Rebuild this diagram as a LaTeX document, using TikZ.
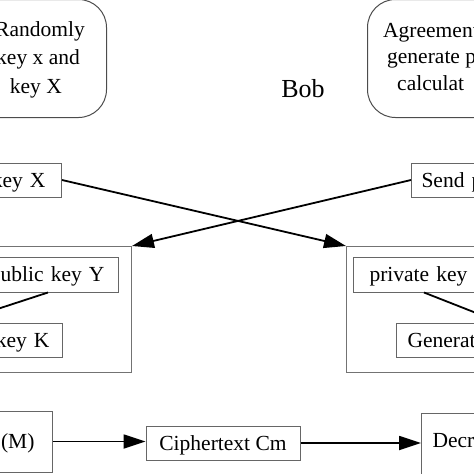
\documentclass[tikz,border=0pt]{standalone}
\usepackage{fontspec}
\setmainfont{Liberation Serif}
\usetikzlibrary{arrows.meta}
\begin{document}
\begin{tikzpicture}[x=1pt,y=-1pt,
  txt/.style={font=\fontsize{21.5}{26}\selectfont, inner sep=0pt},
  kbox/.style={draw=black!60, line width=1pt, font=\fontsize{21.5}{26}\selectfont,
    minimum height=34pt, inner ysep=0pt, text height=14.2pt, text depth=0pt},
  lcut/.style={kbox, text width=200pt, align=right, anchor=east},
  rcut/.style={kbox, text width=200pt, align=left, anchor=west},
  grp/.style={draw=black!55, line width=1pt, minimum height=126pt, minimum width=160pt, inner sep=0pt},
  rbox/.style={draw=black!70, line width=1pt, rounded corners=28pt, minimum width=190pt,
    minimum height=118pt, inner sep=0pt},
  conn/.style={line width=1.8pt, -{Triangle[length=22pt,width=14pt]}},
  plainln/.style={line width=1.8pt}]
\useasboundingbox (0,0) rectangle (474,474);

% top rounded boxes
\node[rbox, anchor=north east] (tl) at (107,-1) {};
\node[txt, anchor=base east] (tl1) at (85,36) {Randomly};
\node[txt, anchor=base east] (tl2) at (80,64) {key x and};
\node[txt, anchor=base east] (tl3) at (62,93) {key X};

\node[font=\fontsize{26}{30}\selectfont, inner sep=0pt, anchor=base] (bob) at (303,97) {Bob};

\node[rbox, anchor=north west] (tr) at (367,-1) {};
\node[txt, anchor=base west] (tr1) at (383,37) {Agreement};
\node[txt, anchor=base west] (tr2) at (387,63) {generate p};
\node[txt, anchor=base west] (tr3) at (397,90) {calculat};

% send row
\node[lcut, inner xsep=16pt] (keyX) at (62,180) {key X};
\node[rcut, inner xsep=10pt] (send) at (411,180) {Send p};

% group boxes
\node[grp, anchor=north east] (grpL) at (132,246) {};
\node[grp, anchor=north west] (grpR) at (346,246) {};

\draw[conn] (keyX.east) -- (grpR.north west);
\draw[conn] (send.west) -- (grpL.north east);

% inside left group
\node[lcut, inner xsep=14pt, minimum height=35pt] (pubY) at (119,274.5) {public key Y};
\node[lcut, inner xsep=13pt] (keyK) at (63,340) {key K};
\coordinate (offL) at (-20,314.7);
\draw[plainln] ([xshift=-71pt]pubY.south east) -- (offL);

% inside right group
\node[rcut, inner xsep=16pt, minimum height=35pt] (privK) at (353,274.5) {private key};
\node[rcut, inner xsep=11pt] (genK) at (396,340) {Generat};
\coordinate (offR) at (494,320);
\draw[plainln] ([xshift=71pt]privK.south west) -- (offR);

% bottom row
\node[lcut, inner xsep=18pt, minimum height=61pt] (M) at (53,441.5) {(M)};
\node[kbox, inner xsep=11.5pt, minimum width=154pt] (Cm) at (223,443) {Ciphertext Cm};
\node[rcut, inner xsep=11pt, minimum height=80pt, text depth=26pt] (Dec) at (421,453) {Decr};

\draw[conn] (M.east) -- (M.east -| Cm.west);
\draw[conn] (Cm.east) -- (Cm.east -| Dec.west);
\end{tikzpicture}
\end{document}
